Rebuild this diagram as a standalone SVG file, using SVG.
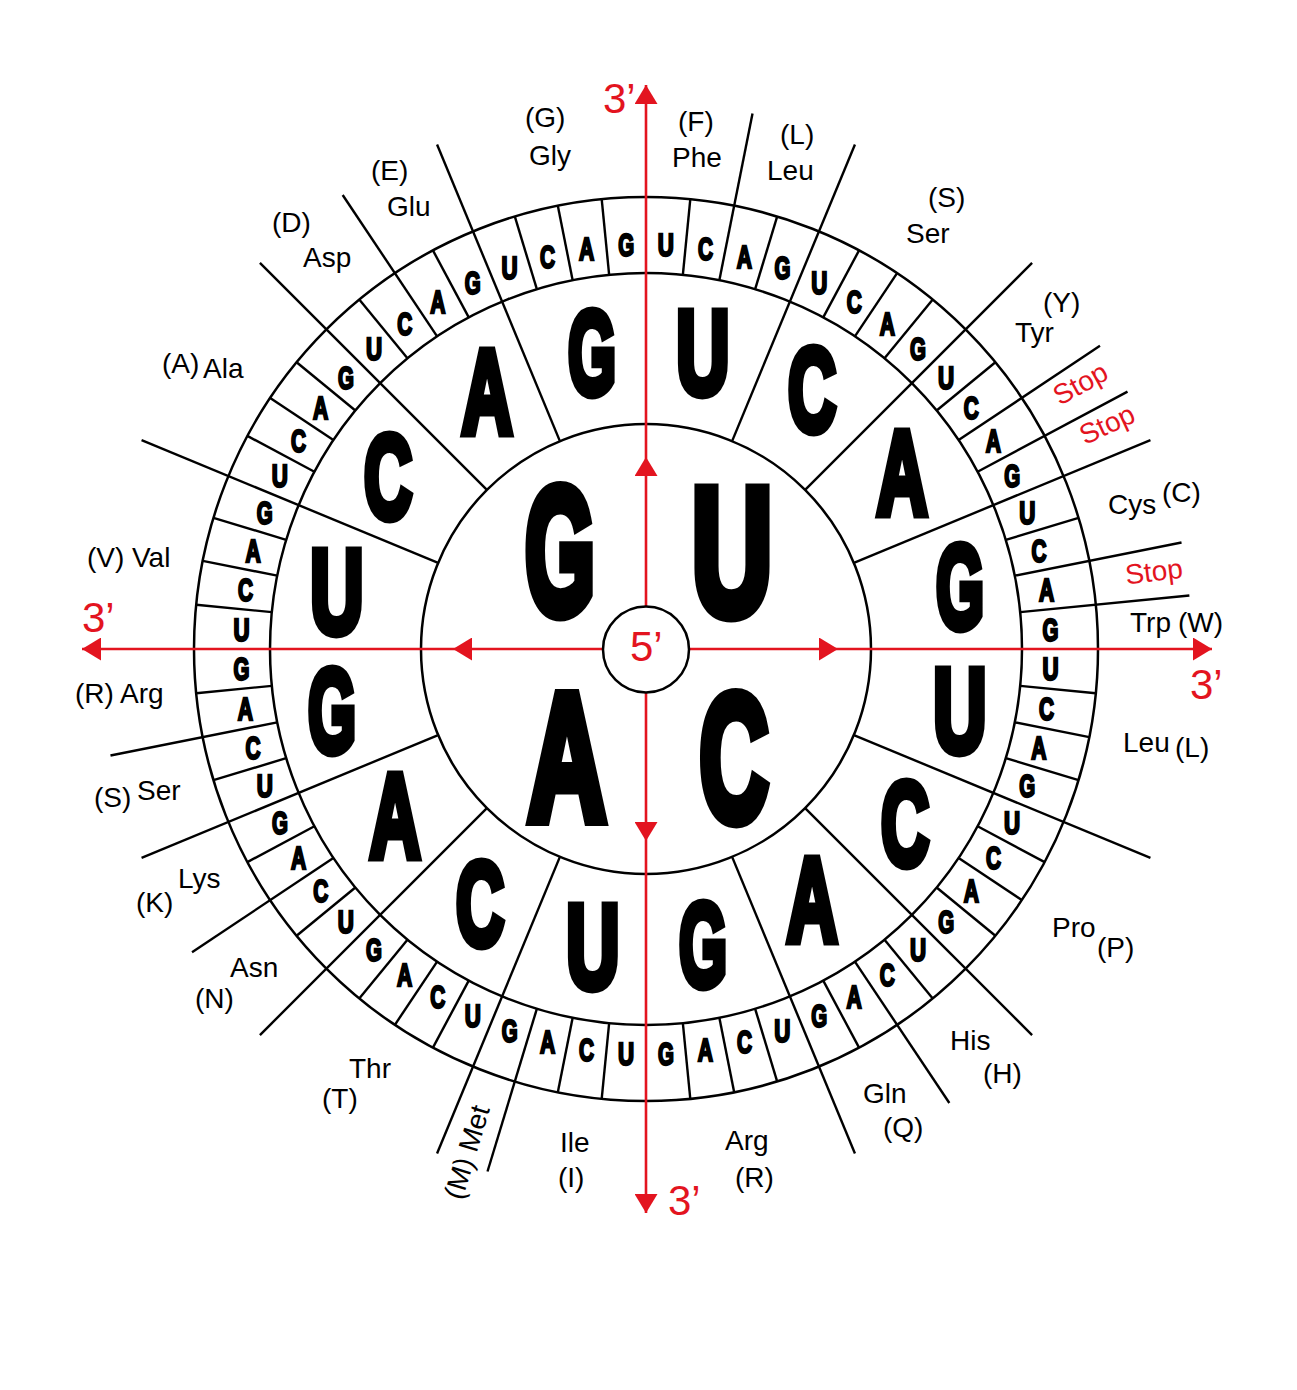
<svg xmlns="http://www.w3.org/2000/svg" width="1297" height="1390" viewBox="0 0 1297 1390">
<style>
.ring{fill:none;stroke:#000;stroke-width:2.5}
.ln{stroke:#000;stroke-width:2.4}
.red{stroke:#e3141f;stroke-width:2.6;fill:none}
.L{font-family:"Liberation Sans",Arial,sans-serif;font-weight:bold;text-anchor:middle;fill:#000;stroke:#000;stroke-linejoin:miter;stroke-miterlimit:2}
.s{font-size:31px;stroke-width:2.4}
.m{font-size:119px;stroke-width:9}
.b{font-size:180px;stroke-width:13}
.aa{font-family:"Liberation Sans",Arial,sans-serif;font-size:28px;fill:#000}
.stop{fill:#e3141f;text-anchor:middle}
.r3{font-family:"Liberation Sans",Arial,sans-serif;font-size:42px;fill:#e3141f}
</style>
<defs>
<marker id="ah" viewBox="0 0 19 23" markerWidth="19" markerHeight="23" markerUnits="userSpaceOnUse" refX="19" refY="11.5" orient="auto">
<path d="M0,0 L19,11.5 L0,23 z" fill="#e3141f"/>
</marker>
</defs>
<rect width="1297" height="1390" fill="#fff"/>

<g id="rings">
<circle class="ring" cx="646" cy="649" r="225"/>
<circle class="ring" cx="646" cy="649" r="376"/>
<circle class="ring" cx="646" cy="649" r="452"/>
</g>

<g id="connectors" transform="translate(646,649)">
<g class="ln">
<line y1="-376" y2="-452" transform="rotate(5.625)"/>
<line y1="-376" y2="-452" transform="rotate(16.875)"/>
<line y1="-376" y2="-452" transform="rotate(28.125)"/>
<line y1="-376" y2="-452" transform="rotate(33.75)"/>
<line y1="-376" y2="-452" transform="rotate(39.375)"/>
<line y1="-376" y2="-452" transform="rotate(50.625)"/>
<line y1="-376" y2="-452" transform="rotate(73.125)"/>
<line y1="-376" y2="-452" transform="rotate(95.625)"/>
<line y1="-376" y2="-452" transform="rotate(101.25)"/>
<line y1="-376" y2="-452" transform="rotate(106.875)"/>
<line y1="-376" y2="-452" transform="rotate(118.125)"/>
<line y1="-376" y2="-452" transform="rotate(123.75)"/>
<line y1="-376" y2="-452" transform="rotate(129.375)"/>
<line y1="-376" y2="-452" transform="rotate(140.625)"/>
<line y1="-376" y2="-452" transform="rotate(151.875)"/>
<line y1="-376" y2="-452" transform="rotate(163.125)"/>
<line y1="-376" y2="-452" transform="rotate(168.75)"/>
<line y1="-376" y2="-452" transform="rotate(174.375)"/>
<line y1="-376" y2="-452" transform="rotate(185.625)"/>
<line y1="-376" y2="-452" transform="rotate(191.25)"/>
<line y1="-376" y2="-452" transform="rotate(208.125)"/>
<line y1="-376" y2="-452" transform="rotate(213.75)"/>
<line y1="-376" y2="-452" transform="rotate(219.375)"/>
<line y1="-376" y2="-452" transform="rotate(230.625)"/>
<line y1="-376" y2="-452" transform="rotate(241.875)"/>
<line y1="-376" y2="-452" transform="rotate(253.125)"/>
<line y1="-376" y2="-452" transform="rotate(264.375)"/>
<line y1="-376" y2="-452" transform="rotate(275.625)"/>
<line y1="-376" y2="-452" transform="rotate(281.25)"/>
<line y1="-376" y2="-452" transform="rotate(286.875)"/>
<line y1="-376" y2="-452" transform="rotate(298.125)"/>
<line y1="-376" y2="-452" transform="rotate(303.75)"/>
<line y1="-376" y2="-452" transform="rotate(309.375)"/>
<line y1="-376" y2="-452" transform="rotate(320.625)"/>
<line y1="-376" y2="-452" transform="rotate(331.875)"/>
<line y1="-376" y2="-452" transform="rotate(343.125)"/>
<line y1="-376" y2="-452" transform="rotate(348.75)"/>
<line y1="-376" y2="-452" transform="rotate(354.375)"/>
<line y1="-376" y2="-546" transform="rotate(11.25)"/>
<line y1="-376" y2="-546" transform="rotate(56.25)"/>
<line y1="-376" y2="-546" transform="rotate(61.875)"/>
<line y1="-376" y2="-546" transform="rotate(78.75)"/>
<line y1="-376" y2="-546" transform="rotate(84.375)"/>
<line y1="-376" y2="-546" transform="rotate(146.25)"/>
<line y1="-376" y2="-546" transform="rotate(196.875)"/>
<line y1="-376" y2="-546" transform="rotate(236.25)"/>
<line y1="-376" y2="-546" transform="rotate(258.75)"/>
<line y1="-376" y2="-546" transform="rotate(326.25)"/>
<line y1="-225" y2="-546" transform="rotate(22.5)"/>
<line y1="-225" y2="-546" transform="rotate(45)"/>
<line y1="-225" y2="-546" transform="rotate(67.5)"/>
<line y1="-225" y2="-546" transform="rotate(112.5)"/>
<line y1="-225" y2="-546" transform="rotate(135)"/>
<line y1="-225" y2="-546" transform="rotate(157.5)"/>
<line y1="-225" y2="-546" transform="rotate(202.5)"/>
<line y1="-225" y2="-546" transform="rotate(225)"/>
<line y1="-225" y2="-546" transform="rotate(247.5)"/>
<line y1="-225" y2="-546" transform="rotate(292.5)"/>
<line y1="-225" y2="-546" transform="rotate(315)"/>
<line y1="-225" y2="-546" transform="rotate(337.5)"/>
</g>
</g>

<g id="axes" class="red">
<line x1="646" y1="606" x2="646" y2="457" marker-end="url(#ah)"/>
<line x1="646" y1="457" x2="646" y2="85" marker-end="url(#ah)"/>
<line x1="646" y1="692" x2="646" y2="841" marker-end="url(#ah)"/>
<line x1="646" y1="841" x2="646" y2="1213" marker-end="url(#ah)"/>
<line x1="603" y1="649" x2="453" y2="649" marker-end="url(#ah)"/>
<line x1="453" y1="649" x2="82" y2="649" marker-end="url(#ah)"/>
<line x1="689" y1="649" x2="838" y2="649" marker-end="url(#ah)"/>
<line x1="838" y1="649" x2="1212" y2="649" marker-end="url(#ah)"/>
</g>

<g id="center">
<circle cx="646" cy="649.5" r="43" fill="#fff" stroke="#000" stroke-width="2.5"/>
<text class="r3" x="630" y="661" font-size="39">5’</text>
</g>

<g id="ends">
<text class="r3" x="603" y="113">3’</text>
<text class="r3" x="82" y="632">3’</text>
<text class="r3" x="1190" y="699">3’</text>
<text class="r3" x="668" y="1215">3’</text>
</g>

<g id="first-base">
<text class="L b" transform="translate(560,613) scale(.5,1)">G</text>
<text class="L b" transform="translate(732,614) scale(.62,1)">U</text>
<text class="L b" transform="translate(567,820) scale(.6,1)">A</text>
<text class="L b" transform="translate(734,820) scale(.53,1)">C</text>
</g>

<g id="second-base">
<text class="L m" transform="translate(337,632.5) scale(.62,1)">U</text>
<text class="L m" transform="translate(388,517.5) scale(.56,1)">C</text>
<text class="L m" transform="translate(487,432.5) scale(.59,1)">A</text>
<text class="L m" transform="translate(592,393.5) scale(.52,1)">G</text>
<text class="L m" transform="translate(703,393.5) scale(.62,1)">U</text>
<text class="L m" transform="translate(812,430.5) scale(.56,1)">C</text>
<text class="L m" transform="translate(902,513.5) scale(.59,1)">A</text>
<text class="L m" transform="translate(960,627.5) scale(.52,1)">G</text>
<text class="L m" transform="translate(960,751.5) scale(.62,1)">U</text>
<text class="L m" transform="translate(905,864.5) scale(.56,1)">C</text>
<text class="L m" transform="translate(812,940.5) scale(.59,1)">A</text>
<text class="L m" transform="translate(703,985.5) scale(.52,1)">G</text>
<text class="L m" transform="translate(593,987.5) scale(.62,1)">U</text>
<text class="L m" transform="translate(480,944.5) scale(.56,1)">C</text>
<text class="L m" transform="translate(395,856.5) scale(.59,1)">A</text>
<text class="L m" transform="translate(332,751.5) scale(.52,1)">G</text>
</g>

<g id="third-base">
<text class="L s" transform="translate(665.9,256) scale(.72,1)">U</text>
<text class="L s" transform="translate(705.4,259.9) scale(.67,1)">C</text>
<text class="L s" transform="translate(744.4,267.6) scale(.68,1)">A</text>
<text class="L s" transform="translate(782.4,279.2) scale(.66,1)">G</text>
<text class="L s" transform="translate(819.2,294.4) scale(.72,1)">U</text>
<text class="L s" transform="translate(854.2,313.1) scale(.67,1)">C</text>
<text class="L s" transform="translate(887.3,335.2) scale(.68,1)">A</text>
<text class="L s" transform="translate(918,360.4) scale(.66,1)">G</text>
<text class="L s" transform="translate(946.1,388.5) scale(.72,1)">U</text>
<text class="L s" transform="translate(971.3,419.2) scale(.67,1)">C</text>
<text class="L s" transform="translate(993.4,452.3) scale(.68,1)">A</text>
<text class="L s" transform="translate(1012.1,487.3) scale(.66,1)">G</text>
<text class="L s" transform="translate(1027.3,524.1) scale(.72,1)">U</text>
<text class="L s" transform="translate(1038.9,562.1) scale(.67,1)">C</text>
<text class="L s" transform="translate(1046.6,601.1) scale(.68,1)">A</text>
<text class="L s" transform="translate(1050.5,640.6) scale(.66,1)">G</text>
<text class="L s" transform="translate(1050.5,680.4) scale(.72,1)">U</text>
<text class="L s" transform="translate(1046.6,719.9) scale(.67,1)">C</text>
<text class="L s" transform="translate(1038.9,758.9) scale(.68,1)">A</text>
<text class="L s" transform="translate(1027.3,796.9) scale(.66,1)">G</text>
<text class="L s" transform="translate(1012.1,833.7) scale(.72,1)">U</text>
<text class="L s" transform="translate(993.4,868.7) scale(.67,1)">C</text>
<text class="L s" transform="translate(971.3,901.8) scale(.68,1)">A</text>
<text class="L s" transform="translate(946.1,932.5) scale(.66,1)">G</text>
<text class="L s" transform="translate(918,960.6) scale(.72,1)">U</text>
<text class="L s" transform="translate(887.3,985.8) scale(.67,1)">C</text>
<text class="L s" transform="translate(854.2,1007.9) scale(.68,1)">A</text>
<text class="L s" transform="translate(819.2,1026.6) scale(.66,1)">G</text>
<text class="L s" transform="translate(782.4,1041.8) scale(.72,1)">U</text>
<text class="L s" transform="translate(744.4,1053.4) scale(.67,1)">C</text>
<text class="L s" transform="translate(705.4,1061.1) scale(.68,1)">A</text>
<text class="L s" transform="translate(665.9,1065) scale(.66,1)">G</text>
<text class="L s" transform="translate(626.1,1065) scale(.72,1)">U</text>
<text class="L s" transform="translate(586.6,1061.1) scale(.67,1)">C</text>
<text class="L s" transform="translate(547.6,1053.4) scale(.68,1)">A</text>
<text class="L s" transform="translate(509.6,1041.8) scale(.66,1)">G</text>
<text class="L s" transform="translate(472.8,1026.6) scale(.72,1)">U</text>
<text class="L s" transform="translate(437.8,1007.9) scale(.67,1)">C</text>
<text class="L s" transform="translate(404.7,985.8) scale(.68,1)">A</text>
<text class="L s" transform="translate(374,960.6) scale(.66,1)">G</text>
<text class="L s" transform="translate(345.9,932.5) scale(.72,1)">U</text>
<text class="L s" transform="translate(320.7,901.8) scale(.67,1)">C</text>
<text class="L s" transform="translate(298.6,868.7) scale(.68,1)">A</text>
<text class="L s" transform="translate(279.9,833.7) scale(.66,1)">G</text>
<text class="L s" transform="translate(264.7,796.9) scale(.72,1)">U</text>
<text class="L s" transform="translate(253.1,758.9) scale(.67,1)">C</text>
<text class="L s" transform="translate(245.4,719.9) scale(.68,1)">A</text>
<text class="L s" transform="translate(241.5,680.4) scale(.66,1)">G</text>
<text class="L s" transform="translate(241.5,640.6) scale(.72,1)">U</text>
<text class="L s" transform="translate(245.4,601.1) scale(.67,1)">C</text>
<text class="L s" transform="translate(253.1,562.1) scale(.68,1)">A</text>
<text class="L s" transform="translate(264.7,524.1) scale(.66,1)">G</text>
<text class="L s" transform="translate(279.9,487.3) scale(.72,1)">U</text>
<text class="L s" transform="translate(298.6,452.3) scale(.67,1)">C</text>
<text class="L s" transform="translate(320.7,419.2) scale(.68,1)">A</text>
<text class="L s" transform="translate(345.9,388.5) scale(.66,1)">G</text>
<text class="L s" transform="translate(374,360.4) scale(.72,1)">U</text>
<text class="L s" transform="translate(404.7,335.2) scale(.67,1)">C</text>
<text class="L s" transform="translate(437.8,313.1) scale(.68,1)">A</text>
<text class="L s" transform="translate(472.8,294.4) scale(.66,1)">G</text>
<text class="L s" transform="translate(509.6,279.2) scale(.72,1)">U</text>
<text class="L s" transform="translate(547.6,267.6) scale(.67,1)">C</text>
<text class="L s" transform="translate(586.6,259.9) scale(.68,1)">A</text>
<text class="L s" transform="translate(626.1,256) scale(.66,1)">G</text>
</g>

<g id="amino-acids" class="aa">
<g id="aa-gly"><text x="525" y="127">(G)</text><text x="529" y="165">Gly</text></g>
<g id="aa-phe"><text x="678" y="131">(F)</text><text x="672" y="167">Phe</text></g>
<g id="aa-leu1"><text x="780" y="144">(L)</text><text x="767" y="180">Leu</text></g>
<g id="aa-ser1"><text x="928" y="207">(S)</text><text x="906" y="243">Ser</text></g>
<g id="aa-tyr"><text x="1043" y="312">(Y)</text><text x="1015" y="342">Tyr</text></g>
<g id="aa-stop1"><text class="stop" transform="translate(1085,392) rotate(-29)">Stop</text></g>
<g id="aa-stop2"><text class="stop" transform="translate(1111,433) rotate(-25)">Stop</text></g>
<g id="aa-cys"><text x="1108" y="514">Cys</text><text x="1162" y="502">(C)</text></g>
<g id="aa-stop3"><text class="stop" transform="translate(1155,581) rotate(-7)">Stop</text></g>
<g id="aa-trp"><text x="1130" y="632">Trp</text><text x="1178" y="632">(W)</text></g>
<g id="aa-leu2"><text x="1123" y="752">Leu</text><text x="1175" y="757">(L)</text></g>
<g id="aa-pro"><text x="1052" y="937">Pro</text><text x="1097" y="957">(P)</text></g>
<g id="aa-his"><text x="950" y="1050">His</text><text x="983" y="1083">(H)</text></g>
<g id="aa-gln"><text x="863" y="1103">Gln</text><text x="883" y="1137">(Q)</text></g>
<g id="aa-arg1"><text x="725" y="1150">Arg</text><text x="735" y="1187">(R)</text></g>
<g id="aa-ile"><text x="560" y="1152">Ile</text><text x="558" y="1187">(I)</text></g>
<g id="aa-met"><text text-anchor="middle" transform="translate(476,1155) rotate(-73)">(M) Met</text></g>
<g id="aa-thr"><text x="349" y="1078">Thr</text><text x="322" y="1108">(T)</text></g>
<g id="aa-asn"><text x="230" y="977">Asn</text><text x="195" y="1008">(N)</text></g>
<g id="aa-lys"><text x="178" y="888">Lys</text><text x="136" y="912">(K)</text></g>
<g id="aa-ser2"><text x="137" y="800">Ser</text><text x="94" y="807">(S)</text></g>
<g id="aa-arg2"><text x="120" y="703">Arg</text><text x="75" y="703">(R)</text></g>
<g id="aa-val"><text x="132" y="567">Val</text><text x="87" y="567">(V)</text></g>
<g id="aa-ala"><text x="203" y="378">Ala</text><text x="162" y="373">(A)</text></g>
<g id="aa-asp"><text x="303" y="267">Asp</text><text x="272" y="232">(D)</text></g>
<g id="aa-glu"><text x="387" y="216">Glu</text><text x="371" y="180">(E)</text></g>
</g>
</svg>
